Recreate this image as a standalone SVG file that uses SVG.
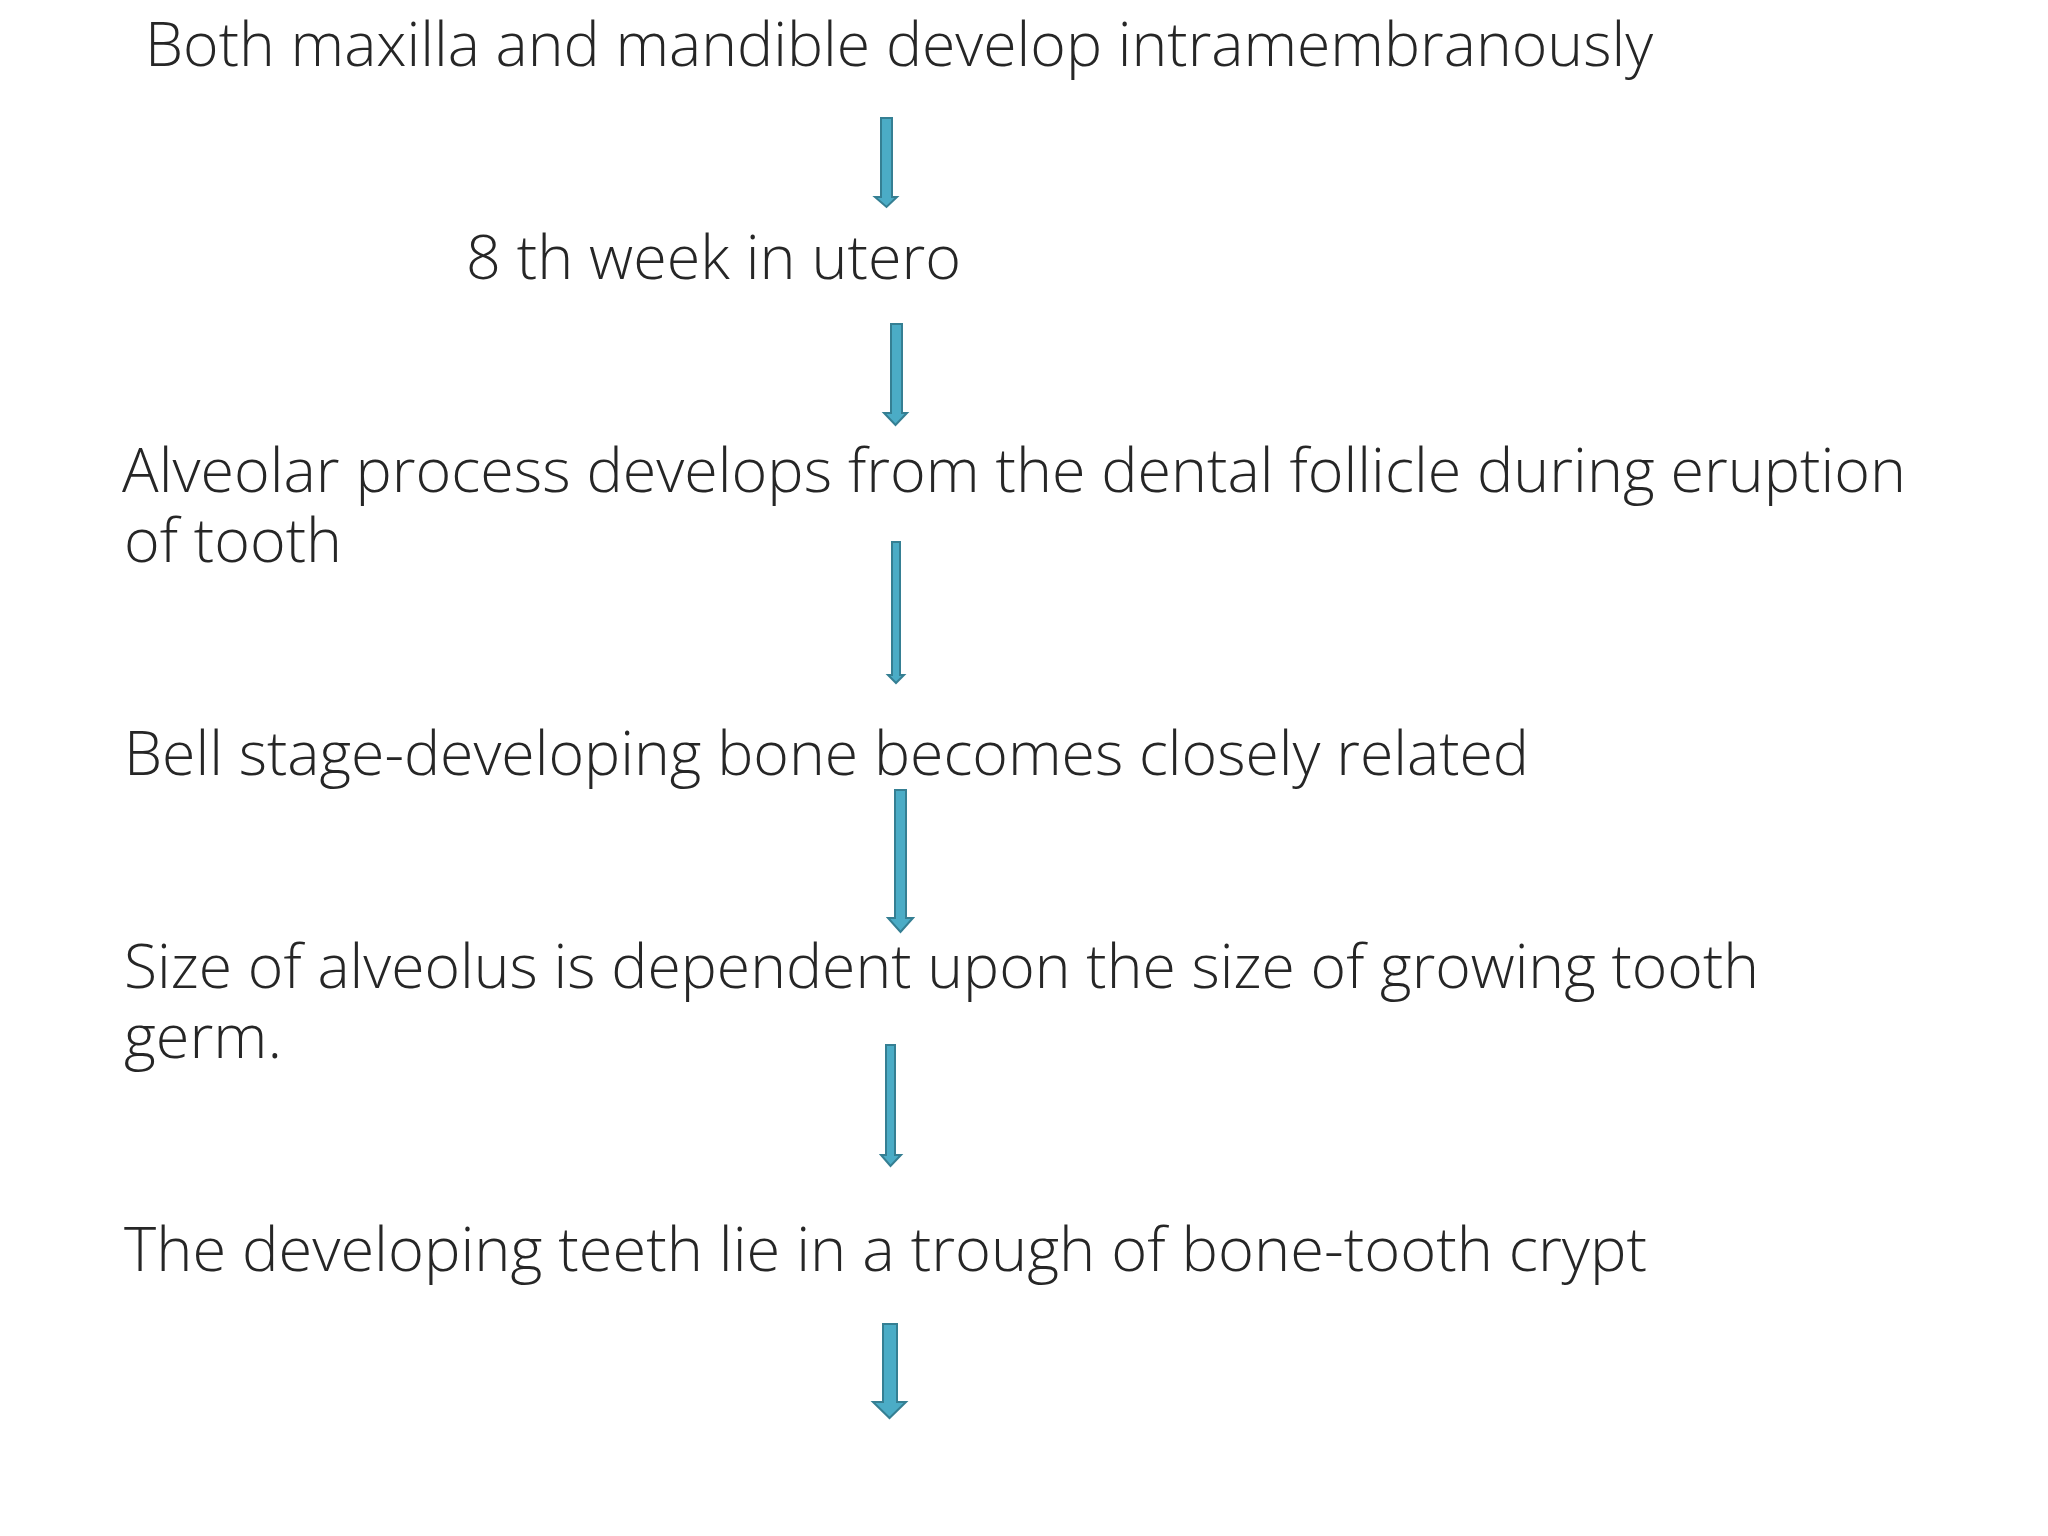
<svg xmlns="http://www.w3.org/2000/svg" width="2048" height="1536" viewBox="0 0 2048 1536">
<style>
.t{font-family:"Open Sans","Liberation Sans",sans-serif;font-weight:300;font-size:60px;fill:#262626}
.a{fill:#4BACC6;stroke:#357F93;stroke-width:2;stroke-linejoin:miter}
</style>
<rect width="2048" height="1536" fill="#ffffff"/>
<g id="n1"><text class="t" x="145" y="66" textLength="1508" lengthAdjust="spacingAndGlyphs">Both maxilla and mandible develop intramembranously</text></g>
<g id="n2"><text class="t" x="466" y="279" textLength="495" lengthAdjust="spacingAndGlyphs">8 th week in utero</text></g>
<g id="n3"><text class="t" x="122" y="492" textLength="1784" lengthAdjust="spacingAndGlyphs">Alveolar process develops from the dental follicle during eruption</text><text class="t" x="124" y="562" textLength="218" lengthAdjust="spacingAndGlyphs">of tooth</text></g>
<g id="n4"><text class="t" x="124" y="775" textLength="1405" lengthAdjust="spacingAndGlyphs">Bell stage-developing bone becomes closely related</text></g>
<g id="n5"><text class="t" x="124" y="988" textLength="1635" lengthAdjust="spacingAndGlyphs">Size of alveolus is dependent upon the size of growing tooth</text><text class="t" x="124" y="1058" textLength="158" lengthAdjust="spacingAndGlyphs">germ.</text></g>
<g id="n6"><text class="t" x="124" y="1271" textLength="1523" lengthAdjust="spacingAndGlyphs">The developing teeth lie in a trough of bone-tooth crypt</text></g>
<g id="connectors">
<polygon class="a" points="881,118 892,118 892,197 897,197 886.5,207 875,197 881,197"/>
<polygon class="a" points="891,324 902,324 902,413 907,413 895.5,425 884,413 891,413"/>
<polygon class="a" points="892,542 900,542 900,675 904,675 896,683 888,675 892,675"/>
<polygon class="a" points="895,790 906,790 906,918 913,918 900.5,932 888,918 895,918"/>
<polygon class="a" points="886,1045 895,1045 895,1155 901,1155 890.5,1166 881,1155 886,1155"/>
<polygon class="a" points="883,1324 897,1324 897,1402 906,1402 889.5,1418 873,1402 883,1402"/>
</g>
</svg>
